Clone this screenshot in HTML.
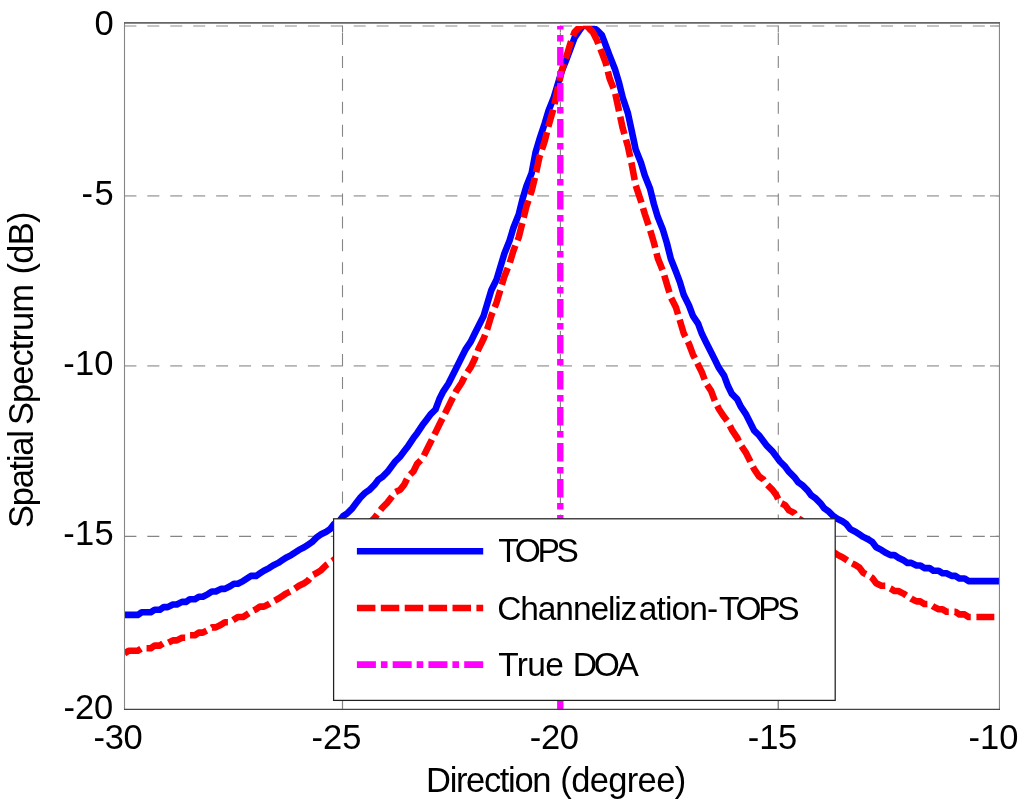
<!DOCTYPE html>
<html lang="en"><head><meta charset="utf-8"><title>Spatial Spectrum</title>
<style>html,body{margin:0;padding:0;background:#fff;}body{width:1024px;height:809px;overflow:hidden;}svg{display:block;}text{font-family:"Liberation Sans",Arial,sans-serif;font-size:33px;fill:#000;}</style>
</head><body>
<svg width="1024" height="809" viewBox="0 0 1024 809">
<rect x="0" y="0" width="1024" height="809" fill="#fff"/>
<defs><clipPath id="ax"><rect x="124.5" y="26" width="875" height="683.4"/></clipPath></defs>
<g fill="none" stroke="#b4b4b4" stroke-width="1.7">
<path d="M124.4,26.0 H999.5" stroke-dasharray="12 10.93"/><path d="M990,26.0 H999.5"/>
<path d="M124.4,195.8 H999.5" stroke-dasharray="12 10.93"/><path d="M990,195.8 H999.5"/>
<path d="M124.4,365.9 H999.5" stroke-dasharray="12 10.93"/><path d="M990,365.9 H999.5"/>
</g>
<g fill="none" stroke="#858585" stroke-width="1.1">
<path d="M124.4,536.4 H999.5" stroke-dasharray="12 10.93"/><path d="M990,536.4 H999.5"/>
<path d="M342.5,32.97 V709" stroke-dasharray="12 10.93"/><path d="M342.5,25.5 V32.5"/><path d="M342.5,700 V709.4"/>
<path d="M560.4,32.97 V709" stroke-dasharray="12 10.93"/><path d="M560.4,25.5 V32.5"/><path d="M560.4,700 V709.4"/>
<path d="M778.3,32.97 V709" stroke-dasharray="12 10.93"/><path d="M778.3,25.5 V32.5"/><path d="M778.3,700 V709.4"/>
</g>
<g clip-path="url(#ax)" fill="none" stroke-linejoin="round">
<path d="M124.5,614.9 L128.7,614.9 L132.6,614.9 L137.8,614.9 L141.7,612.3 L146.9,612.3 L150.8,612.3 L154.7,609.7 L159.9,609.7 L163.8,607.1 L167.7,607.1 L172.9,604.5 L176.8,604.5 L182.0,601.9 L185.9,601.9 L189.8,599.3 L195.0,599.3 L198.9,596.7 L202.8,596.7 L208.0,594.1 L211.9,591.5 L215.8,591.5 L221.0,588.9 L224.9,588.9 L230.1,586.3 L234.0,583.7 L237.9,583.7 L243.1,581.1 L247.0,578.5 L250.9,575.9 L256.1,575.9 L260.0,573.3 L263.9,570.7 L269.1,568.1 L273.0,565.5 L278.2,562.9 L282.1,560.3 L286.0,557.7 L291.2,555.1 L295.1,552.5 L299.0,549.9 L304.2,547.3 L308.1,544.7 L312.0,542.1 L317.2,536.9 L321.1,534.3 L326.3,531.7 L330.2,529.1 L334.1,523.9 L339.3,521.3 L343.2,516.1 L347.1,513.5 L352.3,508.3 L356.2,503.1 L360.1,497.9 L365.3,492.7 L369.2,490.1 L374.4,484.9 L378.3,479.7 L382.2,477.1 L387.4,471.9 L391.3,466.7 L395.2,461.5 L400.4,456.3 L404.3,451.1 L408.2,445.9 L413.4,438.1 L417.3,432.9 L422.5,425.1 L426.4,419.9 L430.3,414.7 L435.5,409.5 L439.4,399.1 L443.3,391.3 L448.5,383.5 L452.4,375.7 L456.3,367.9 L461.5,357.5 L465.4,349.7 L470.6,341.9 L474.5,334.1 L478.4,326.3 L483.6,315.9 L487.5,302.9 L491.4,289.9 L496.6,279.5 L500.5,266.5 L504.4,253.5 L509.6,240.5 L513.5,227.5 L518.7,214.5 L522.6,198.9 L526.5,185.9 L531.7,172.9 L535.6,152.1 L539.5,139.1 L544.7,123.5 L548.6,110.5 L553.8,97.5 L557.7,84.5 L561.6,71.5 L566.8,58.5 L570.7,48.1 L574.6,37.7 L579.8,29.9 L583.7,24.7 L587.6,24.7 L592.8,27.3 L596.7,29.9 L601.9,35.1 L605.8,45.5 L609.7,55.9 L614.9,68.9 L618.8,81.9 L622.7,97.5 L627.9,113.1 L631.8,131.3 L635.7,149.5 L640.9,162.5 L644.8,175.5 L650.0,188.5 L653.9,204.1 L657.8,217.1 L663.0,230.1 L666.9,243.1 L670.8,258.7 L676.0,271.7 L679.9,282.1 L683.8,295.1 L689.0,305.5 L692.9,315.9 L698.1,323.7 L702.0,334.1 L705.9,341.9 L711.1,352.3 L715.0,360.1 L718.9,367.9 L724.1,375.7 L728.0,386.1 L731.9,393.9 L737.1,399.1 L741.0,406.9 L746.2,414.7 L750.1,422.5 L754.0,430.3 L759.2,435.5 L763.1,440.7 L767.0,445.9 L772.2,451.1 L776.1,456.3 L780.0,461.5 L785.2,466.7 L789.1,471.9 L794.3,477.1 L798.2,482.3 L802.1,484.9 L807.3,490.1 L811.2,495.3 L815.1,497.9 L820.3,503.1 L824.2,508.3 L828.1,510.9 L833.3,516.1 L837.2,518.7 L842.4,521.3 L846.3,523.9 L850.2,529.1 L855.4,531.7 L859.3,534.3 L863.2,536.9 L868.4,539.5 L872.3,542.1 L876.2,547.3 L881.4,549.9 L885.3,552.5 L890.5,555.1 L894.4,555.1 L898.3,557.7 L903.5,560.3 L907.4,562.9 L911.3,562.9 L916.5,565.5 L920.4,565.5 L924.3,568.1 L929.5,568.1 L933.4,570.7 L938.6,570.7 L942.5,573.3 L946.4,573.3 L951.6,575.9 L955.5,575.9 L959.4,578.5 L964.6,578.5 L968.5,581.1 L973.7,581.1 L977.6,581.1 L981.5,581.1 L986.7,581.1 L990.6,581.1 L994.5,581.1 L999.3,581.1" stroke="#0000ff" stroke-width="6.6"/>
<path d="M124.5,653.4 L128.7,650.8 L132.6,650.8 L137.8,650.8 L141.7,648.2 L146.9,648.2 L150.8,648.2 L154.7,645.6 L159.9,645.6 L163.8,643.0 L167.7,643.0 L172.9,640.4 L176.8,640.4 L182.0,637.8 L185.9,637.8 L189.8,635.2 L195.0,635.2 L198.9,632.6 L202.8,632.6 L208.0,630.0 L211.9,627.4 L215.8,627.4 L221.0,624.8 L224.9,622.2 L230.1,622.2 L234.0,619.6 L237.9,617.0 L243.1,617.0 L247.0,614.4 L250.9,611.8 L256.1,609.2 L260.0,606.6 L263.9,606.6 L269.1,604.0 L273.0,601.4 L278.2,598.8 L282.1,596.2 L286.0,593.6 L291.2,591.0 L295.1,588.4 L299.0,585.8 L304.2,583.2 L308.1,580.6 L312.0,575.4 L317.2,572.8 L321.1,570.2 L326.3,565.0 L330.2,562.4 L334.1,559.8 L339.3,554.6 L343.2,549.4 L347.1,546.8 L352.3,541.6 L356.2,539.0 L360.1,533.8 L365.3,528.6 L369.2,523.4 L374.4,518.2 L378.3,513.0 L382.2,507.8 L387.4,502.6 L391.3,497.4 L395.2,492.2 L400.4,489.6 L404.3,484.4 L408.2,476.6 L413.4,471.4 L417.3,463.6 L422.5,458.4 L426.4,450.6 L430.3,442.8 L435.5,432.4 L439.4,424.6 L443.3,416.8 L448.5,406.4 L452.4,398.6 L456.3,390.8 L461.5,383.0 L465.4,375.2 L470.6,367.4 L474.5,359.6 L478.4,349.2 L483.6,338.8 L487.5,328.4 L491.4,315.4 L496.6,302.4 L500.5,289.4 L504.4,276.4 L509.6,263.4 L513.5,250.4 L518.7,237.4 L522.6,221.8 L526.5,206.2 L531.7,190.6 L535.6,175.0 L539.5,156.8 L544.7,141.2 L548.6,125.6 L553.8,107.4 L557.7,89.2 L561.6,71.0 L566.8,55.4 L570.7,42.4 L574.6,32.0 L579.8,26.8 L583.7,24.2 L587.6,26.8 L592.8,32.0 L596.7,39.8 L601.9,52.8 L605.8,63.2 L609.7,78.8 L614.9,91.8 L618.8,110.0 L622.7,128.2 L627.9,146.4 L631.8,164.6 L635.7,185.4 L640.9,201.0 L644.8,214.0 L650.0,229.6 L653.9,242.6 L657.8,258.2 L663.0,271.2 L666.9,284.2 L670.8,297.2 L676.0,307.6 L679.9,320.6 L683.8,333.6 L689.0,344.0 L692.9,354.4 L698.1,364.8 L702.0,372.6 L705.9,383.0 L711.1,390.8 L715.0,401.2 L718.9,409.0 L724.1,416.8 L728.0,422.0 L731.9,429.8 L737.1,437.6 L741.0,445.4 L746.2,453.2 L750.1,461.0 L754.0,468.8 L759.2,476.6 L763.1,479.2 L767.0,484.4 L772.2,489.6 L776.1,494.8 L780.0,502.6 L785.2,505.2 L789.1,510.4 L794.3,513.0 L798.2,518.2 L802.1,520.8 L807.3,526.0 L811.2,528.6 L815.1,533.8 L820.3,539.0 L824.2,544.2 L828.1,546.8 L833.3,552.0 L837.2,554.6 L842.4,557.2 L846.3,559.8 L850.2,562.4 L855.4,565.0 L859.3,567.6 L863.2,572.8 L868.4,575.4 L872.3,578.0 L876.2,583.2 L881.4,585.8 L885.3,585.8 L890.5,588.4 L894.4,591.0 L898.3,591.0 L903.5,593.6 L907.4,596.2 L911.3,598.8 L916.5,601.4 L920.4,601.4 L924.3,604.0 L929.5,604.0 L933.4,606.6 L938.6,609.2 L942.5,609.2 L946.4,611.8 L951.6,611.8 L955.5,611.8 L959.4,614.4 L964.6,614.4 L968.5,617.0 L973.7,617.0 L977.6,617.0 L981.5,617.0 L986.7,617.0 L990.6,617.0 L994.5,617.0 L999.3,617.0" stroke="#ff0000" stroke-width="6.6" stroke-dasharray="17.9 5.66"/>
<path d="M579.8,26.8 L583.7,24.2 L587.6,26.8 L592.8,32.0" stroke="#ff0000" stroke-width="6.6"/>
<path d="M560.3,11 V709.4" stroke="#ff00ff" stroke-width="6.4" stroke-dasharray="18.5 5.6 6.3 5.6"/>
</g>
<path d="M124.5,23 V709.4" stroke="#868686" stroke-width="1.1" fill="none"/>
<path d="M999.45,23 V709.4" stroke="#868686" stroke-width="1.1" fill="none"/>
<path d="M124,22.95 H1000" stroke="#666666" stroke-width="1.8" fill="none"/>
<path d="M124,709.4 H1000" stroke="#444444" stroke-width="1.1" fill="none"/>
<rect x="333.6" y="518.8" width="501.6" height="181.6" fill="#fff" stroke="#202020" stroke-width="1.25"/>
<path d="M356.9,551.35 H483.2" stroke="#0000ff" stroke-width="6.5" fill="none"/>
<path d="M356.9,608 H483.2" stroke="#ff0000" stroke-width="6.4" stroke-dasharray="18.5 5.4" fill="none"/>
<path d="M356.9,664.6 H483.2" stroke="#ff00ff" stroke-width="6.6" stroke-dasharray="19 5 6.6 5.17" fill="none"/>
<text y="562.40" style="font-size:33.5px"><tspan x="498.25" textLength="80.68" lengthAdjust="spacing">TOPS</tspan></text>
<text y="619.60" style="font-size:33.5px"><tspan x="497.24" textLength="140.13" lengthAdjust="spacing">Channeliz</tspan><tspan x="638.70" textLength="79.44" lengthAdjust="spacing">ation-</tspan><tspan x="718.94" textLength="80.73" lengthAdjust="spacing">TOPS</tspan></text>
<text y="675.90" style="font-size:33.5px"><tspan x="498.26" textLength="65.54" lengthAdjust="spacing">True</tspan> <tspan x="572.76" textLength="66.04" lengthAdjust="spacing">DOA</tspan></text>
<text y="34.84" style="font-size:34.5px"><tspan x="94.39" textLength="19.95" lengthAdjust="spacing">0</tspan></text>
<text y="205.12" style="font-size:34.5px"><tspan x="81.55" textLength="32.14" lengthAdjust="spacing">-5</tspan></text>
<text y="375.20" style="font-size:34.5px"><tspan x="63.30" textLength="50.20" lengthAdjust="spacing">-10</tspan></text>
<text y="545.30" style="font-size:34.5px"><tspan x="63.30" textLength="50.41" lengthAdjust="spacing">-15</tspan></text>
<text y="718.69" style="font-size:34.5px"><tspan x="63.53" textLength="49.68" lengthAdjust="spacing">-20</tspan></text>
<text y="748.70" style="font-size:34.5px"><tspan x="93.58" textLength="49.00" lengthAdjust="spacing">-30</tspan></text>
<text y="748.70" style="font-size:34.5px"><tspan x="311.42" textLength="50.13" lengthAdjust="spacing">-25</tspan></text>
<text y="748.70" style="font-size:34.5px"><tspan x="529.76" textLength="49.28" lengthAdjust="spacing">-20</tspan></text>
<text y="748.70" style="font-size:34.5px"><tspan x="747.86" textLength="49.44" lengthAdjust="spacing">-15</tspan></text>
<text y="748.70" style="font-size:34.5px"><tspan x="968.55" textLength="49.80" lengthAdjust="spacing">-10</tspan></text>
<text y="792.40" style="font-size:34.5px"><tspan x="426.06" textLength="125.41" lengthAdjust="spacing">Direction</tspan> <tspan x="560.28" textLength="125.93" lengthAdjust="spacing">(degree)</tspan></text>
<text transform="translate(33.20,527.99) rotate(-90)" y="0" style="font-size:34.5px"><tspan x="0.00" textLength="97.87" lengthAdjust="spacing">Spatial</tspan> <tspan x="103.02" textLength="141.02" lengthAdjust="spacing">Spectrum</tspan> <tspan x="253.42" textLength="63.04" lengthAdjust="spacing">(dB)</tspan></text>
</svg>
</body></html>
